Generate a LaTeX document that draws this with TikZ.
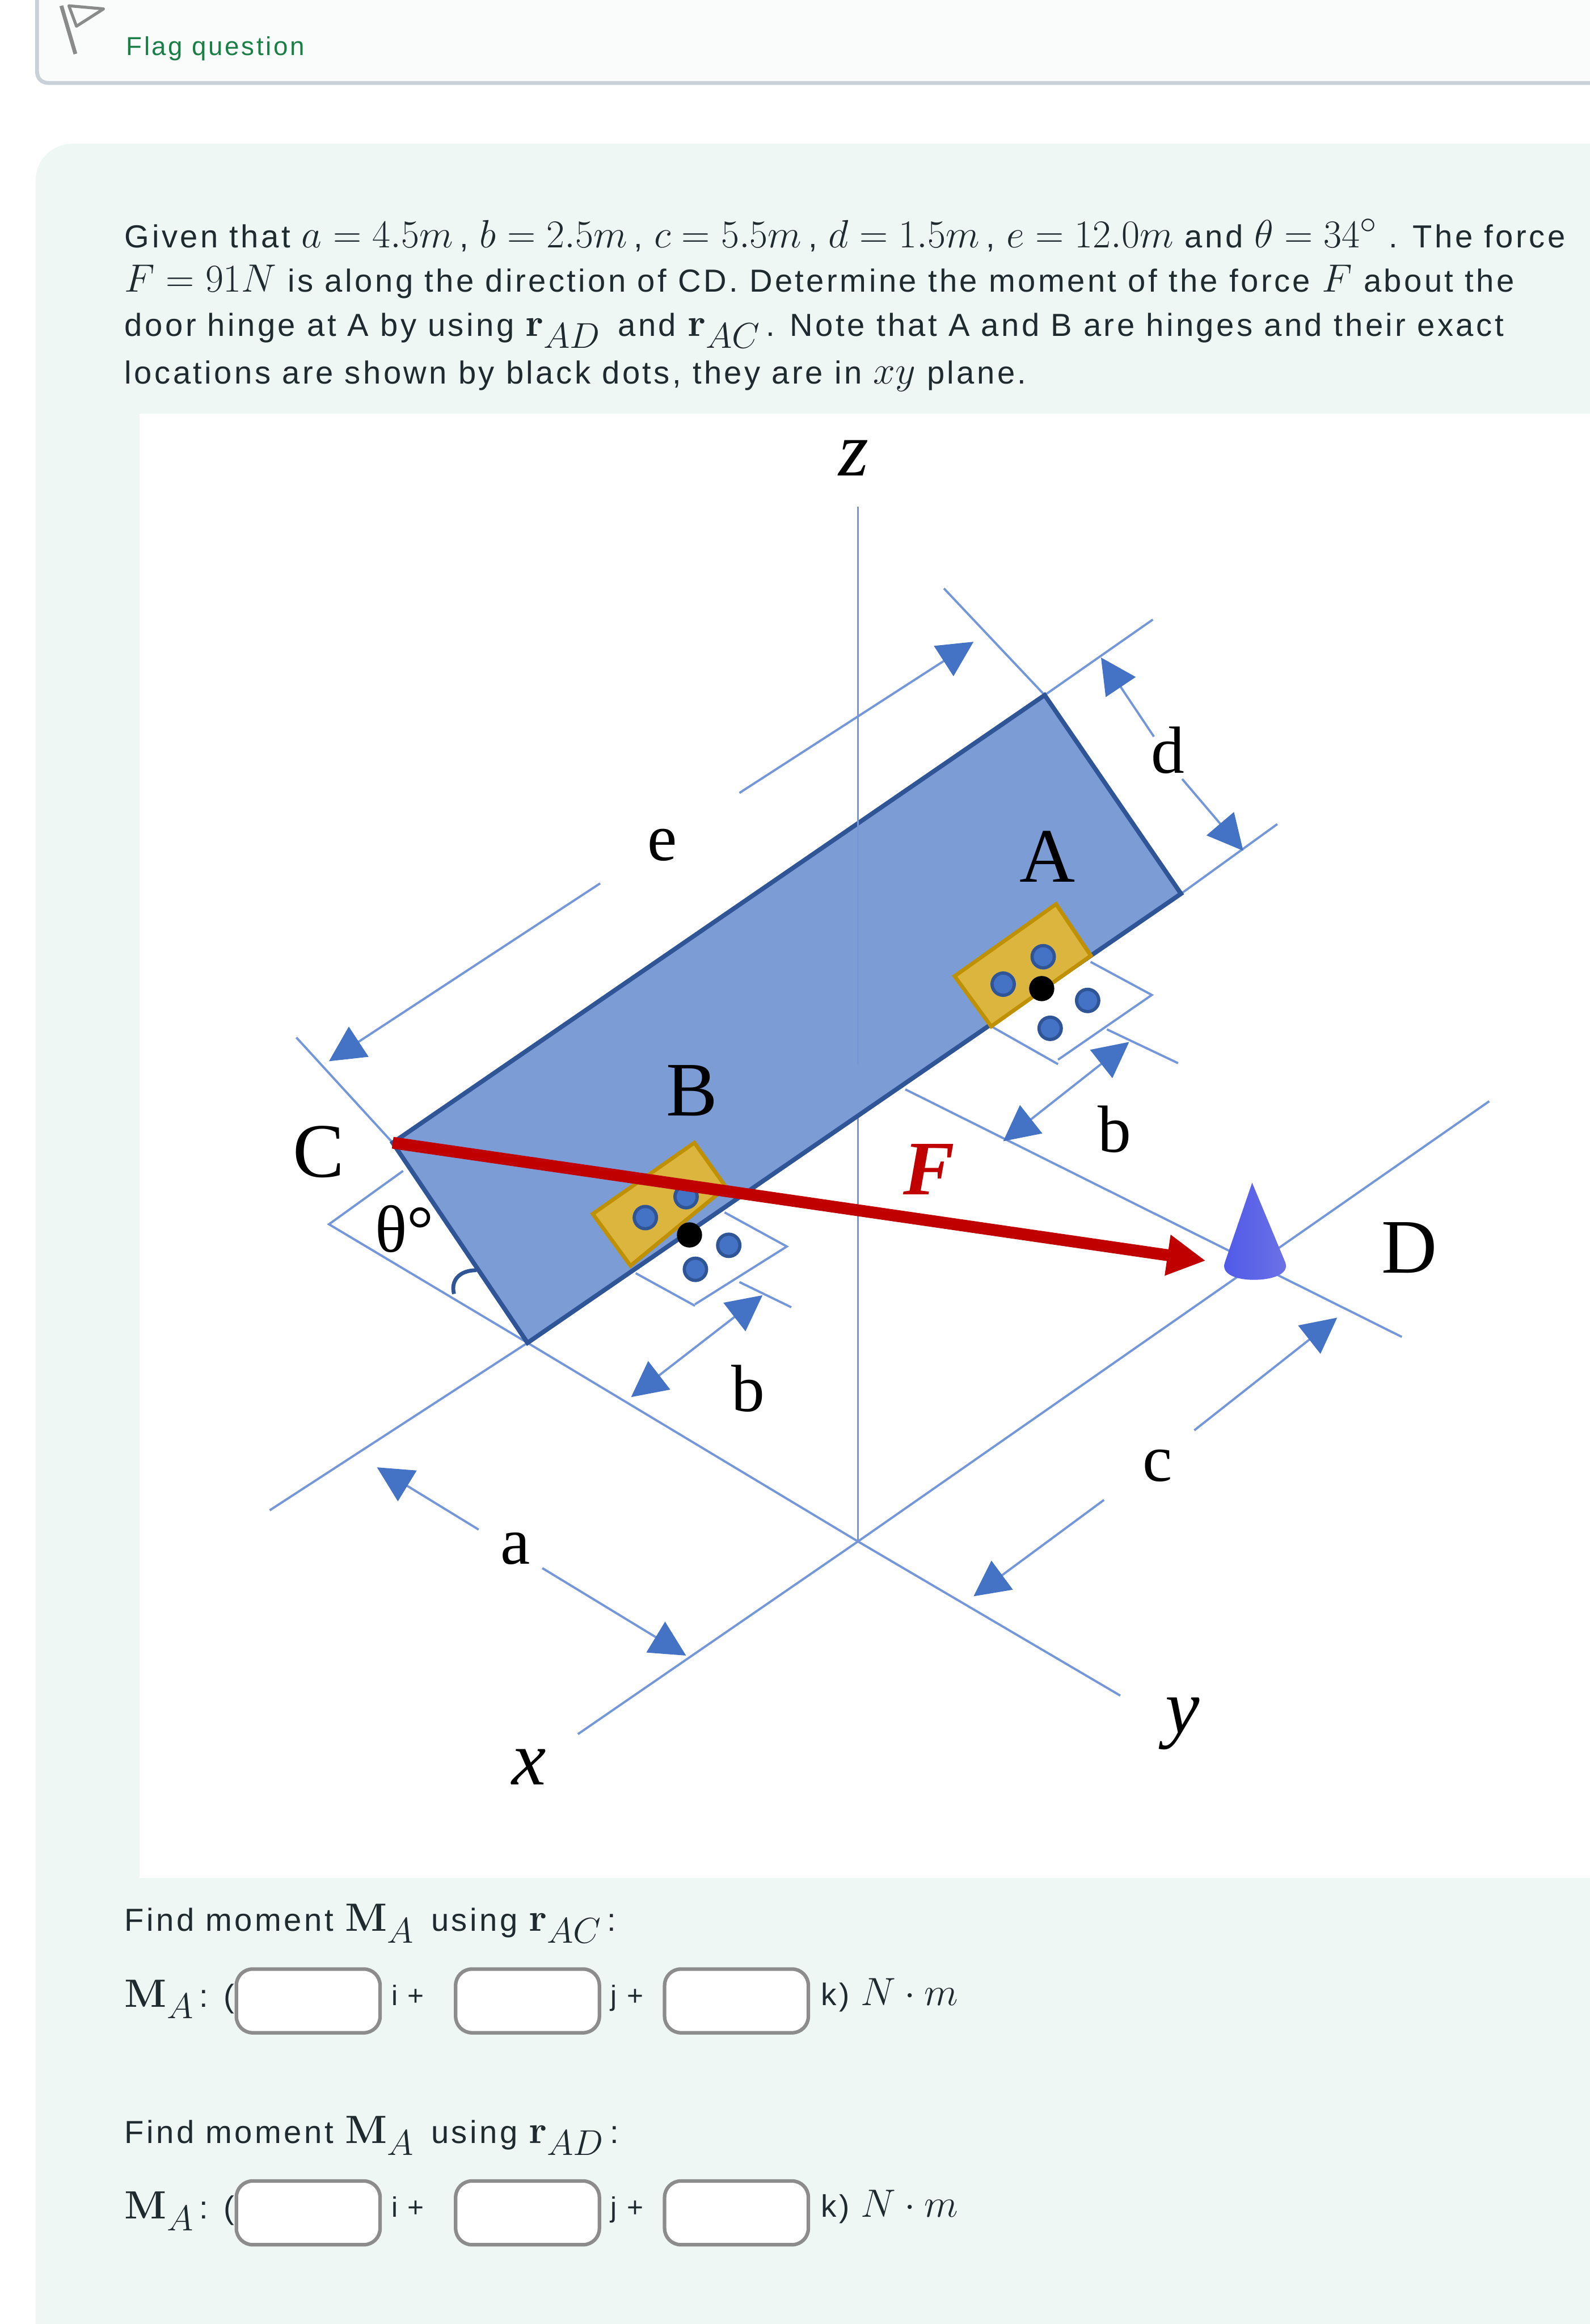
\documentclass[tikz,border=0pt]{standalone}
\usepackage{amsmath}
\usepackage{amssymb}
\usepackage[no-math]{fontspec}
\setmainfont[LetterSpace=8]{Liberation Sans}
\newfontfamily\figfont{Liberation Serif}
\usetikzlibrary{arrows.meta}
\definecolor{panelbg}{HTML}{EFF7F5}
\definecolor{topbg}{HTML}{FAFBFB}
\definecolor{edgegrey}{HTML}{C9D0D8}
\definecolor{flaggreen}{HTML}{1A7F46}
\definecolor{doorblue}{HTML}{7C9CD6}
\definecolor{doorline}{HTML}{2F5597}
\definecolor{thinblue}{HTML}{7497DA}
\definecolor{tipblue}{HTML}{4472C4}
\definecolor{hingegold}{HTML}{DCB53F}
\definecolor{hingeline}{HTML}{BF9000}
\definecolor{forcered}{HTML}{C00000}
\definecolor{boxgrey}{HTML}{8C8C8C}
\definecolor{flaggrey}{HTML}{8A8A8A}
\definecolor{txt}{HTML}{1F2A2E}
\definecolor{markerdark}{HTML}{4F59E8}
\definecolor{markerlight}{HTML}{6D72E6}
\newcommand{\mth}[1]{\scalebox{1.07}{\fontsize{24.88}{30}\selectfont$#1$}}
\newcommand{\lowsub}[1]{\lower 7.5pt\hbox{\scalebox{1.09}{\fontsize{20.74}{25}\selectfont$#1$}\hspace{4pt}}}
\tikzset{
	thin line/.style={draw=thinblue, line width=1.5pt},
	dim/.style={thin line, -{Triangle[length=24pt,width=24pt,color=tipblue]}},
	dim both/.style={thin line, {Triangle[length=24pt,width=24pt,color=tipblue]}-{Triangle[length=24pt,width=24pt,color=tipblue]}},
	txtline/.style={anchor=base west, inner sep=0pt, text=txt, font=\fontsize{21.5}{25}\selectfont},
	fig label/.style={inner sep=0pt, font=\figfont\fontsize{52}{60}\selectfont},
	low label/.style={inner sep=0pt, font=\figfont\fontsize{45}{50}\selectfont},
	axis label/.style={inner sep=0pt, font=\figfont\itshape\fontsize{52}{60}\selectfont},
	answer/.style={draw=boxgrey, line width=2.4pt, fill=white, rounded corners=11pt, minimum width=97pt, minimum height=43pt, inner sep=0pt},
	pin/.style={circle, draw=doorline, line width=2.2pt, fill=tipblue, minimum size=15pt, inner sep=0pt},
}
\begin{document}
\begin{tikzpicture}[x=1pt, y=-1pt]
	\useasboundingbox (0,0) rectangle (1073,1568);
	\fill[white] (0,0) rectangle (1073,1568);
	% top panel
	\fill[topbg] (25,0) -- (25,48) .. controls (25,53) and (28,56) .. (33,56) -- (1073,56) -- (1073,0) -- cycle;
	\draw[edgegrey, line width=2.6pt] (25,0) -- (25,48) .. controls (25,53) and (28,56) .. (33,56) -- (1073,56);
	\draw[flaggrey, line width=2.6pt] (41.4,3.9) -- (50.9,36.4);
	\draw[flaggrey, line width=2pt, line join=round] (46.5,3.9) -- (69.9,6) -- (51.6,17.7) -- cycle;
	\node[txtline, text=flaggreen, font=\fontsize{17.5}{20}\selectfont] (flag) at (85,37.5) {Flag question};
	% question panel
	\fill[panelbg] (24,1568) -- (24,122) .. controls (24,108) and (35,97) .. (49,97) -- (1073,97) -- (1073,1568) -- cycle;
	\fill[white] (94,279) rectangle (1073,1267);
	\node[txtline] (lineone) at (84,167) {Given that \mth{a=4.5m\,}, \mth{b=2.5m\,}, \mth{c=5.5m\,}, \mth{d=1.5m\,}, \mth{e=12.0m} and \mth{\theta=34^\circ} . The force};
	\node[txtline] (linetwo) at (84,197) {\mth{F=91N} is along the direction of CD. Determine the moment of the force \mth{F} about the};
	\node[txtline] (linethree) at (84,227) {door hinge at A by using \mth{\mathbf{r}\lowsub{AD}} and \mth{\mathbf{r}\lowsub{AC}}. Note that A and B are hinges and their exact};
	\node[txtline] (linefour) at (84,259) {locations are shown by black dots, they are in \mth{xy} plane.};
	% points
	\coordinate (C) at (265,771);
	\coordinate (E) at (356,906);
	\coordinate (T) at (705,469);
	\coordinate (R) at (797,603);
	\coordinate (O) at (579,1040);
	% axes and guide lines
	\draw[thin line] (579,342) -- (O);
	\draw[thin line] (390,1170) -- (O) -- (756,1144);
	\draw[thin line] (O) -- (1005,743);
	\draw[thin line] (611,735) -- (946,902);
	\draw[thin line] (182,1019) -- (E) -- (O);
	\draw[thin line] (272,790) -- (222,826) -- (E);
	\draw[thin line] (200,700) -- (C);
	\draw[thin line] (637,397) -- (T) -- (778,418);
	\draw[thin line] (R) -- (862,556);
	% door
	\fill[doorblue] (C) -- (T) -- (R) -- (E) -- cycle;
	\draw[doorline, line width=3pt, line join=miter] (C) -- (T) -- (R) -- (E) -- cycle;
	\draw[thin line] (579,522) -- (579,718);
	\draw[doorline, line width=2.6pt] (321.6,857) .. controls (310,857) and (304,864) .. (306.4,873);
	% hinge B
	\draw[thin line] (429,859) -- (469,881);
	\draw[thin line] (489,818) -- (531,841) -- (469,880);
	\draw[thin line] (499,865) -- (534,882);
	\draw[hingeline, fill=hingegold, line width=2.6pt] (400,819) -- (468.6,771) -- (490,801) -- (425.5,854) -- cycle;
	\node[pin] (pinbone) at (435.5,821.5) {};
	\node[pin] (pinbtwo) at (463,807.4) {};
	\node[pin] (pinbthree) at (491.8,840.2) {};
	\node[pin] (pinbfour) at (469.3,856.4) {};
	\fill (465.3,833.2) circle (8.5);
	% hinge A
	\draw[thin line] (669,692.5) -- (714,718);
	\draw[thin line] (736,649) -- (777.3,671.3) -- (714,715);
	\draw[thin line] (747,694.5) -- (795,717.3);
	\draw[hingeline, fill=hingegold, line width=2.6pt] (644.2,658.6) -- (712.7,610) -- (736.2,644.8) -- (668.9,692.5) -- cycle;
	\node[pin] (pinaone) at (677,664) {};
	\node[pin] (pinatwo) at (704,645.5) {};
	\node[pin] (pinathree) at (734,675) {};
	\node[pin] (pinafour) at (708.7,693.8) {};
	\fill (703,667) circle (8.5);
	% dimension arrows
	\draw[dim] (405,596) -- (222,716);
	\draw[dim] (499,535) -- (657,433);
	\draw[dim] (778.7,497) -- (743,443.6);
	\draw[dim] (797.8,525.6) -- (839,574);
	\draw[dim both] (677,770) -- (762,703);
	\draw[dim both] (425.9,942.6) -- (514.6,873.9);
	\draw[dim] (806,965) -- (902.4,889);
	\draw[dim] (745,1012) -- (657,1077);
	\draw[dim] (323,1032) -- (254.4,990);
	\draw[dim] (366,1058) -- (463,1117);
	% D marker
	\shade[left color=markerdark, right color=markerlight] (845,798) -- (826.5,852) .. controls (824,860) and (835,863.5) .. (846,863.5) .. controls (858,863.5) and (870,860) .. (867.5,852) -- cycle;
	% force
	\draw[forcered, line width=8pt, -{Triangle[length=26pt,width=26pt]}] (C) -- (813.7,850.6);
	% labels
	\node[axis label] (zlabel) at (576,309) {z};
	\node[low label] (elabel) at (447,570) {e};
	\node[low label] (dlabel) at (788,506) {d};
	\node[fig label] (Alabel) at (707,578) {A};
	\node[fig label] (Blabel) at (467,736) {B};
	\node[fig label] (Clabel) at (215,777) {C};
	\node[low label] (tlabel) at (273,829) {θ°};
	\node[fig label, text=forcered, font=\figfont\bfseries\itshape\fontsize{52}{60}\selectfont] (Flabel) at (627,789) {F};
	\node[low label] (blabelA) at (752,762) {b};
	\node[low label] (blabelB) at (505,937) {b};
	\node[fig label] (Dlabel) at (951,842) {D};
	\node[low label] (clabel) at (781,989) {c};
	\node[low label] (alabel) at (348,1045) {a};
	\node[axis label] (xlabel) at (357,1192) {x};
	\node[axis label] (ylabel) at (798,1163) {y};
	% answers
	\node[txtline] (findone) at (84,1303) {Find moment \mth{\mathbf{M}\lowsub{A}} using \mth{\mathbf{r}\lowsub{AC}}:};
	\node[txtline] (findtwo) at (84,1446) {Find moment \mth{\mathbf{M}\lowsub{A}} using \mth{\mathbf{r}\lowsub{AD}}:};
	\foreach \y/\n in {1350/one,1493/two} {
		\node[txtline] (ma\n) at (84,\y+4) {\mth{\mathbf{M}\lowsub{A}}: (};
		\node[answer] (boxi\n) at (208,\y) {};
		\node[answer] (boxj\n) at (356,\y) {};
		\node[answer] (boxk\n) at (497,\y) {};
		\node[txtline, font=\fontsize{19}{25}\selectfont] (i\n) at (264,\y+3) {i +};
		\node[txtline, font=\fontsize{19}{25}\selectfont] (j\n) at (412,\y+3) {j +};
		\node[txtline, font=\fontsize{21}{25}\selectfont] (k\n) at (554,\y+3) {k) \mth{N\cdot m}};
	}
\end{tikzpicture}
\end{document}
